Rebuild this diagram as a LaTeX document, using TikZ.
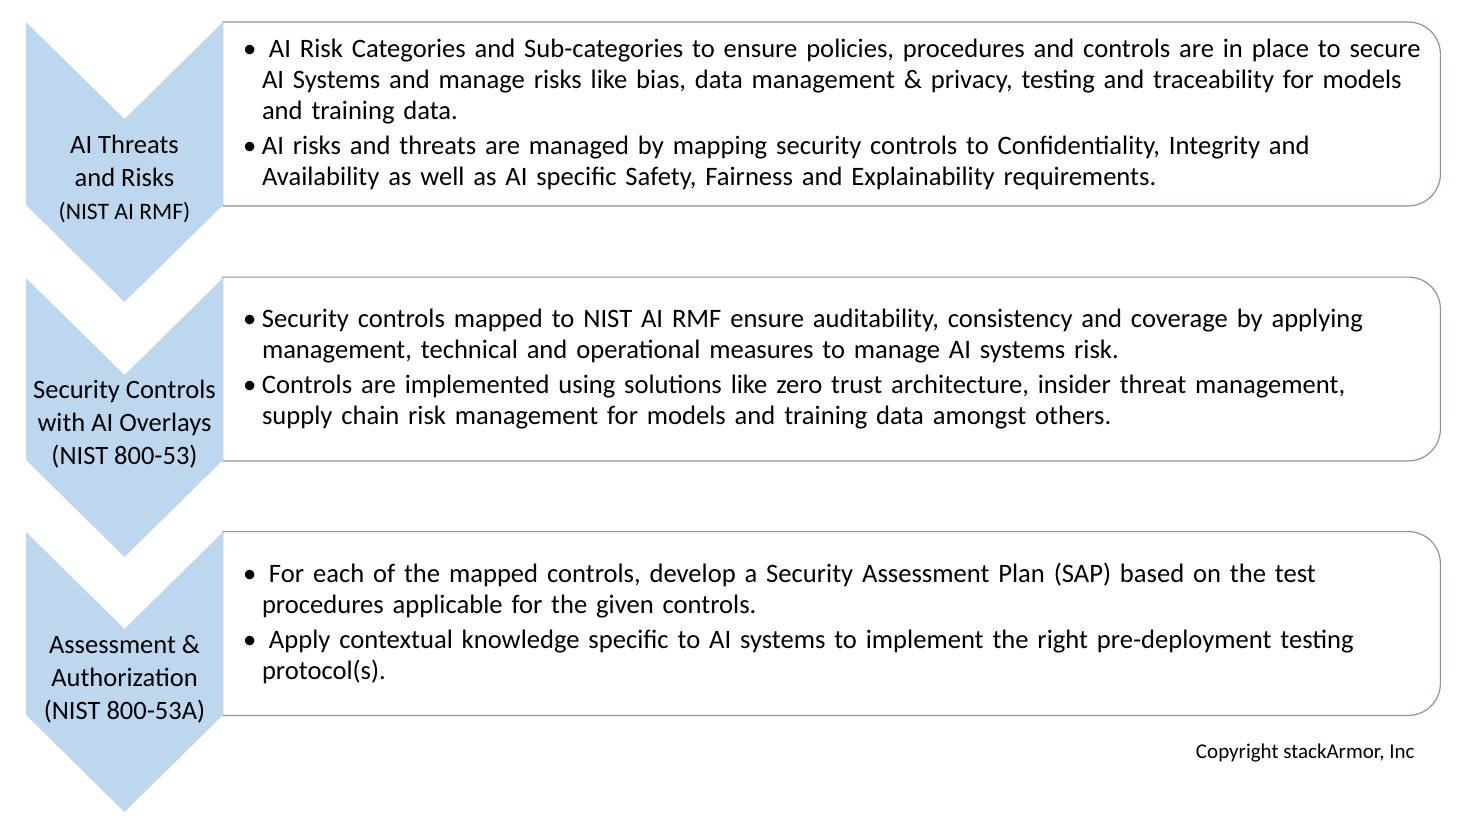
\documentclass[tikz,border=0pt]{standalone}
\usepackage{fontspec}
\setmainfont{Carlito}
\usetikzlibrary{positioning}
\definecolor{chevblue}{HTML}{BDD7EE}
\definecolor{boxline}{HTML}{8497B0}
\newcommand{\bpoint}[1]{\hangindent=9.5pt\hangafter=1\noindent\makebox[9.5pt][l]{\textbullet}#1\par}
\tikzset{
  stage/.style={
    fill=chevblue
  },
  steplabel/.style={
    align=center,
    inner sep=0pt,
    font=\fontsize{13.25}{16.5}\selectfont
  },
  details/.style={
    text width=606.5pt,
    minimum height=91.5pt,
    inner xsep=1pt,
    inner ysep=0pt,
    align=left,
    execute at begin node={\setlength{\parskip}{2pt}\leftskip=9pt\hyphenpenalty=10000},
    font=\fontsize{13.3}{15.5}\selectfont
  },
  outline/.style={draw=boxline, line width=0.6pt, rounded corners=16pt}
}
\begin{document}
\begin{tikzpicture}[x=0.5pt, y=-0.5pt]
    \useasboundingbox (0,0) rectangle (1462,829);
    % text boxes
    \node (info1) [details] at (831.5,114) {
      \bpoint{\hspace{3.5pt}AI Risk Categories and Sub-categories to ensure policies, procedures and controls are in place to secure\newline
        AI Systems and manage risks like bias, data management \& privacy, testing and traceability for models\newline
        and training data.}
      \bpoint{AI risks and threats are managed by mapping security controls to Confidentiality, Integrity and\newline
        Availability as well as AI specific Safety, Fairness and Explainability requirements.}};
    \node (info2) [details] at (831.5,369) {
      \bpoint{Security controls mapped to NIST AI RMF ensure auditability, consistency and coverage by applying\newline
        management, technical and operational measures to manage AI systems risk.}
      \bpoint{Controls are implemented using solutions like zero trust architecture, insider threat management,\newline
        supply chain risk management for models and training data amongst others.}};
    \node (info3) [details] at (831.5,623.5) {
      \bpoint{\hspace{3.5pt}For each of the mapped controls, develop a Security Assessment Plan (SAP) based on the test\newline
        procedures applicable for the given controls.}
      \bpoint{\hspace{3.5pt}Apply contextual knowledge specific to AI systems to implement the right pre-deployment testing\newline
        protocol(s).}};
    \foreach \n in {1,2,3}
      \draw[outline] (info\n.north west) -- (info\n.north east) -- (info\n.south east) -- (info\n.south west)
        (info\n.south west) -- (info\n.north west);
    % chevrons
    \foreach \t/\b in {22/205, 278/460, 532/715}
      \fill[stage] (26,\t) -- (124.5,\t+97) -- (223,\t) -- (223,\b) -- (124.5,\b+97) -- (26,\b) -- cycle;
    \node (stage1) [steplabel] at (124.5,179) {AI Threats\\and Risks\\{\fontsize{11.8}{14}\selectfont (NIST AI RMF)}};
    \node (stage2) [steplabel] at (124.5,424) {Security Controls\\with AI Overlays\\(NIST 800-53)};
    \node (stage3) [steplabel] at (124.5,679) {Assessment \&\\Authorization\\(NIST 800-53A)};
    \node (copy) [anchor=east, inner sep=0pt, font=\fontsize{10.5}{12}\selectfont] at (1415,753) {Copyright stackArmor, Inc};
\end{tikzpicture}
\end{document}
